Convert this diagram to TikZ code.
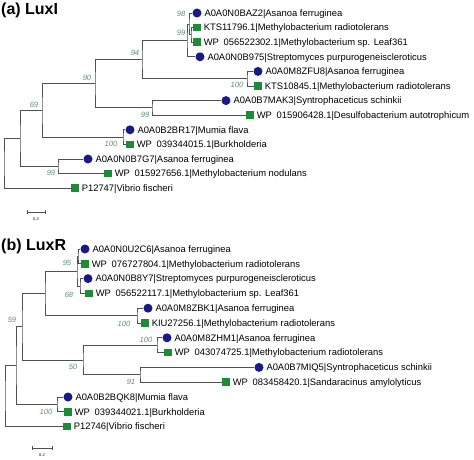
\documentclass[tikz,border=0pt]{standalone}
\usepackage{fontspec}
\setmainfont{Liberation Sans}
\usetikzlibrary{positioning}
\definecolor{leafblue}{RGB}{25,25,135}
\definecolor{leafgreen}{RGB}{30,140,55}
\definecolor{bootgreen}{RGB}{95,145,110}
\definecolor{branchgray}{RGB}{80,80,80}

\begin{document}
\begin{tikzpicture}[x=1pt,y=-1pt,
    branch/.style={draw=branchgray, line width=0.9pt},
    circ/.style={circle, fill=leafblue, minimum size=9pt, inner sep=0pt},
    sqr/.style={rectangle, fill=leafgreen, minimum size=7.6pt, inner sep=0pt},
    taxon/.style={right=2.6pt of #1, inner sep=0pt, text height=6.7pt, text depth=0pt, font=\fontsize{9.4}{10}\selectfont},
    boot/.style={inner sep=0pt, text=bootgreen, font=\fontsize{7.6}{8}\selectfont\itshape},
    panel/.style={anchor=base west, inner sep=0pt, font=\fontsize{16}{18}\selectfont\bfseries},
    scalelbl/.style={inner sep=0pt, font=\fontsize{4}{5}\selectfont}]
    \useasboundingbox (0,0) rectangle (474,460);

    \node[panel] (ttla) at (1,15) {(a) LuxI};

    \node[circ] (a1) at (197,13) {};
    \node[taxon=a1] (ta1) {A0A0N0BAZ2|Asanoa ferruginea};
    \node[sqr] (a2) at (197,27.6) {};
    \node[taxon=a2] (ta2) {KTS11796.1|Methylobacterium radiotolerans};
    \node[sqr] (a3) at (197,42.2) {};
    \node[taxon=a3] (ta3) {WP\enspace 056522302.1|Methylobacterium sp. Leaf361};
    \node[circ] (a4) at (200,56.8) {};
    \node[taxon=a4] (ta4) {A0A0N0B975|Streptomyces purpurogeneiscleroticus};
    \node[circ] (a5) at (258,71.4) {};
    \node[taxon=a5] (ta5) {A0A0M8ZFU8|Asanoa ferruginea};
    \node[sqr] (a6) at (258,86) {};
    \node[taxon=a6] (ta6) {KTS10845.1|Methylobacterium radiotolerans};
    \node[circ] (a7) at (226,100.6) {};
    \node[taxon=a7] (ta7) {A0A0B7MAK3|Syntrophaceticus schinkii};
    \node[sqr] (a8) at (250,115.2) {};
    \node[taxon=a8] (ta8) {WP\enspace 015906428.1|Desulfobacterium autotrophicum};
    \node[circ] (a9) at (130,129.8) {};
    \node[taxon=a9] (ta9) {A0A0B2BR17|Mumia flava};
    \node[sqr] (a10) at (130,144.4) {};
    \node[taxon=a10] (ta10) {WP\enspace 039344015.1|Burkholderia};
    \node[circ] (a11) at (88,159) {};
    \node[taxon=a11] (ta11) {A0A0N0B7G7|Asanoa ferruginea};
    \node[sqr] (a12) at (108,173.6) {};
    \node[taxon=a12] (ta12) {WP\enspace 015927656.1|Methylobacterium nodulans};
    \node[sqr] (a13) at (75,188.2) {};
    \node[taxon=a13] (ta13) {P12747|Vibrio fischeri};

    \coordinate (aJ) at (191,34.9);
    \coordinate (aI) at (189,24);
    \coordinate (aO) at (187,40.4);
    \coordinate (aZ) at (247,78.7);
    \coordinate (aK) at (142,59.5);
    \coordinate (aM) at (152,107.9);
    \coordinate (aL) at (95,83.7);
    \coordinate (aB) at (123,137.1);
    \coordinate (aH) at (42,110.4);
    \coordinate (aN) at (58,166.3);
    \coordinate (aG) at (20,138.4);
    \coordinate (aR) at (4,163.3);

    \draw[branch] (a2) -| (aJ) |- (a3);
    \draw[branch] (a1) -| (aI) |- (aJ);
    \draw[branch] (aI) -| (aO) |- (a4);
    \draw[branch] (a5) -| (aZ) |- (a6);
    \draw[branch] (aO) -| (aK) |- (aZ);
    \draw[branch] (a7) -| (aM) |- (a8);
    \draw[branch] (aK) -| (aL) |- (aM);
    \draw[branch] (a9) -| (aB) |- (a10);
    \draw[branch] (aL) -| (aH) |- (aB);
    \draw[branch] (a11) -| (aN) |- (a12);
    \draw[branch] (aH) -| (aG) |- (aN);
    \draw[branch] (aG) -| (aR) |- (a13);

    \node[boot] (ba98) at (181,14) {98};
    \node[boot] (ba99) at (181,33) {99};
    \node[boot] (ba94) at (135,53) {94};
    \node[boot] (ba90) at (87,78) {90};
    \node[boot] (ba69) at (34,105) {69};
    \node[boot] (ba100) at (237,84.5) {100};
    \node[boot] (ba99b) at (145,114.5) {99};
    \node[boot] (ba100b) at (111,144) {100};
    \node[boot] (ba99c) at (51,173) {99};

    \coordinate (sa1) at (27,212);
    \coordinate (sa2) at (45,212);
    \draw[branch, line width=0.6pt] (sa1) -- (sa2);
    \draw[branch, line width=0.6pt] ([yshift=2pt]sa1) -- ([yshift=-2pt]sa1);
    \draw[branch, line width=0.6pt] ([yshift=2pt]sa2) -- ([yshift=-2pt]sa2);
    \node[scalelbl] (sla) at (36,219) {0.2};

    \node[panel] (ttlb) at (1,250) {(b) LuxR};

    \node[circ] (b1) at (85,249) {};
    \node[taxon=b1] (tb1) {A0A0N0U2C6|Asanoa ferruginea};
    \node[sqr] (b2) at (85,263.8) {};
    \node[taxon=b2] (tb2) {WP\enspace 076727804.1|Methylobacterium radiotolerans};
    \node[circ] (b3) at (88,278.6) {};
    \node[taxon=b3] (tb3) {A0A0N0B8Y7|Streptomyces purpurogeneiscleroticus};
    \node[sqr] (b4) at (89,293.4) {};
    \node[taxon=b4] (tb4) {WP\enspace 056522117.1|Methylobacterium sp. Leaf361};
    \node[circ] (b5) at (148,308.2) {};
    \node[taxon=b5] (tb5) {A0A0M8ZBK1|Asanoa ferruginea};
    \node[sqr] (b6) at (145,323) {};
    \node[taxon=b6] (tb6) {KIU27256.1|Methylobacterium radiotolerans};
    \node[circ] (b7) at (167,337.8) {};
    \node[taxon=b7] (tb7) {A0A0M8ZHM1|Asanoa ferruginea};
    \node[sqr] (b8) at (168,352.6) {};
    \node[taxon=b8] (tb8) {WP\enspace 043074725.1|Methylobacterium radiotolerans};
    \node[circ] (b9) at (259,367.4) {};
    \node[taxon=b9] (tb9) {A0A0B7MIQ5|Syntrophaceticus schinkii};
    \node[sqr] (b10) at (226,382.2) {};
    \node[taxon=b10] (tb10) {WP\enspace 083458420.1|Sandaracinus amylolyticus};
    \node[circ] (b11) at (68,397) {};
    \node[taxon=b11] (tb11) {A0A0B2BQK8|Mumia flava};
    \node[sqr] (b12) at (68,411.8) {};
    \node[taxon=b12] (tb12) {WP\enspace 039344021.1|Burkholderia};
    \node[sqr] (b13) at (67,426.6) {};
    \node[taxon=b13] (tb13) {P12746|Vibrio fischeri};

    \coordinate (bC) at (78,256.4);
    \coordinate (bD) at (80,286);
    \coordinate (bP) at (77,271.2);
    \coordinate (bZ) at (137,315.6);
    \coordinate (bE) at (45,293.4);
    \coordinate (bH) at (157,345.2);
    \coordinate (bM) at (140,374.8);
    \coordinate (bL) at (83,360);
    \coordinate (bF) at (22,326.7);
    \coordinate (bQ) at (57,404.4);
    \coordinate (bG) at (16,365.5);
    \coordinate (bR) at (5,396);

    \draw[branch] (b1) -| (bC) |- (b2);
    \draw[branch] (b3) -| (bD) |- (b4);
    \draw[branch] (bC) -| (bP) |- (bD);
    \draw[branch] (b5) -| (bZ) |- (b6);
    \draw[branch] (bP) -| (bE) |- (bZ);
    \draw[branch] (b7) -| (bH) |- (b8);
    \draw[branch] (b9) -| (bM) |- (b10);
    \draw[branch] (bH) -| (bL) |- (bM);
    \draw[branch] (bE) -| (bF) |- (bL);
    \draw[branch] (b11) -| (bQ) |- (b12);
    \draw[branch] (bF) -| (bG) |- (bQ);
    \draw[branch] (bG) -| (bR) |- (b13);

    \node[boot] (bb95) at (67,263) {95};
    \node[boot] (bb68) at (69,295) {68};
    \node[boot] (bb59) at (12,320) {59};
    \node[boot] (bb100) at (124,324) {100};
    \node[boot] (bb100b) at (146,339.5) {100};
    \node[boot] (bb50) at (73,367) {50};
    \node[boot] (bb91) at (131,382) {91};
    \node[boot] (bb100c) at (46,412) {100};

    \coordinate (sb1) at (32,448);
    \coordinate (sb2) at (52,448);
    \draw[branch, line width=0.6pt] (sb1) -- (sb2);
    \draw[branch, line width=0.6pt] ([yshift=2pt]sb1) -- ([yshift=-2pt]sb1);
    \draw[branch, line width=0.6pt] ([yshift=2pt]sb2) -- ([yshift=-2pt]sb2);
    \node[scalelbl] (slb) at (42,455) {0.2};
\end{tikzpicture}
\end{document}
